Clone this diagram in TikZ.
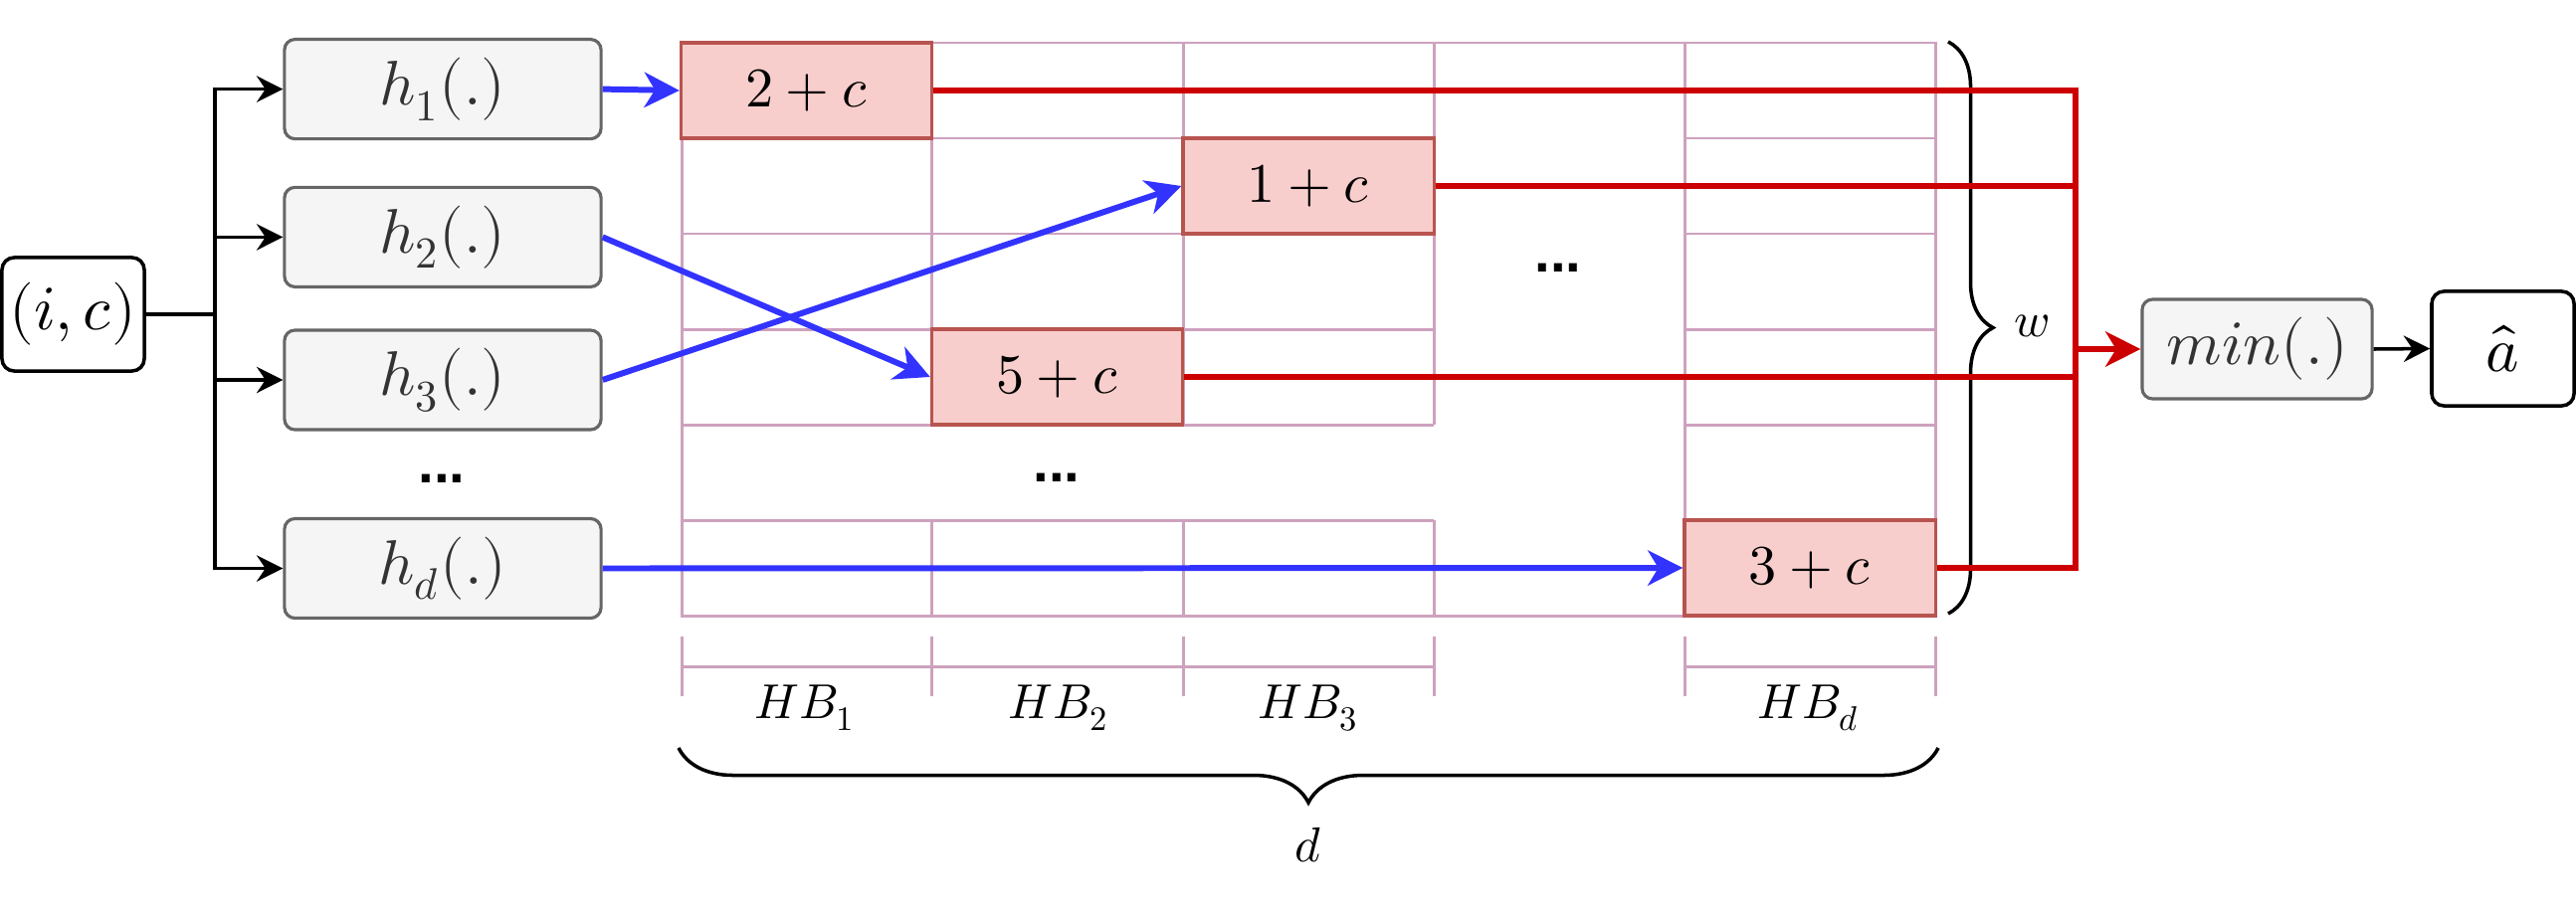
\documentclass[tikz,border=0pt]{standalone}
\usepackage{fontspec}
\usepackage{unicode-math}
\setmathfont{Latin Modern Math}
\newfontfamily\dotsfont{Liberation Sans}
\usetikzlibrary{arrows.meta,decorations.pathreplacing}
\definecolor{gridc}{HTML}{CDA2BE}
\definecolor{cellfill}{HTML}{F8CECC}
\definecolor{celldraw}{HTML}{B85450}
\definecolor{boxfill}{HTML}{F5F5F5}
\definecolor{boxdraw}{HTML}{666666}
\definecolor{boxtext}{HTML}{333333}
\definecolor{blueline}{HTML}{3333FF}
\definecolor{redline}{HTML}{CC0000}
\begin{document}
\begin{tikzpicture}[x=0.01cm,y=-0.01cm,
  hbox/.style={draw=boxdraw, fill=boxfill, text=boxtext, rounded corners=3pt, line width=0.9pt,
    minimum width=3.18cm, minimum height=1cm, inner sep=0pt, font=\fontsize{18}{20}\selectfont},
  wbox/.style={draw=black, fill=white, rounded corners=3.5pt, line width=1pt,
    minimum width=1.43cm, minimum height=1.14cm, inner sep=0pt, font=\fontsize{18}{20}\selectfont},
  cellbox/.style={draw=celldraw, fill=cellfill, line width=0.9pt, minimum width=2.52cm,
    minimum height=0.96cm, inner sep=0pt, font=\fontsize{16}{18}\selectfont},
  gridline/.style={draw=gridc, line width=0.85pt},
  blk/.style={draw=black, line width=1pt, -{Stealth[length=7.5pt,width=7.5pt,inset=2.5pt]}},
  blu/.style={draw=blueline, line width=1.7pt, -{Stealth[length=10pt,width=10pt,inset=3pt]}},
  redl/.style={draw=redline, line width=1.7pt},
  reda/.style={draw=redline, line width=1.7pt, -{Stealth[length=10pt,width=10pt,inset=3pt]}},
  dotsl/.style={inner sep=0pt, font=\dotsfont\bfseries\fontsize{16}{16}\selectfont},
  lab/.style={inner sep=0pt, font=\fontsize{14}{16}\selectfont},
  bracel/.style={draw=black, line width=1pt, decorate}
]
\useasboundingbox (0,0) rectangle (2589,915);

% grid
\draw[gridline] (685,43) rectangle (1945,619);
\foreach \y in {139,235,331,427,523} \draw[gridline] (685,\y) -- (1441,\y);
\foreach \x in {936,1189,1441} {
  \draw[gridline] (\x,43) -- (\x,427);
  \draw[gridline] (\x,523) -- (\x,619);
}
\draw[gridline] (1693,43) -- (1693,619);
\foreach \y in {139,235,331,427} \draw[gridline] (1693,\y) -- (1945,\y);

% HB strip
\foreach \x in {685,936,1189,1441,1693,1945} \draw[gridline] (\x,640) -- (\x,700);
\draw[gridline] (685,670) -- (1441,670);
\draw[gridline] (1693,670) -- (1945,670);

% nodes
\node[wbox] (in) at (73.5,316) {$(i,c)$};
\node[hbox] (h1) at (445,89.6) {$h_1(.)$};
\node[hbox] (h2) at (445,238.4) {$h_2(.)$};
\node[hbox] (h3) at (445,382) {$h_3(.)$};
\node[hbox] (hd) at (445,571.5) {$h_d(.)$};
\node[dotsl] (dl) at (444,481) {...};

\node[cellbox] (c1) at (810.5,91) {$2+c$};
\node[cellbox] (c3) at (1315,187) {$1+c$};
\node[cellbox] (c2) at (1062.5,379) {$5+c$};
\node[cellbox] (cd) at (1819,571) {$3+c$};
\node[dotsl] (dm) at (1062,480) {...};
\node[dotsl] (dr) at (1566,269) {...};

\node[lab] (hb1) at (809,712) {$HB_1$};
\node[lab] (hb2) at (1064,712) {$HB_2$};
\node[lab] (hb3) at (1315,712) {$HB_3$};
\node[lab] (hbd) at (1818,712) {$HB_d$};

\node[hbox, minimum width=2.31cm] (mn) at (2268.5,351) {$min(.)$};
\node[wbox, minimum height=1.15cm] (ah) at (2515.5,350.5) {$\hat{a}$};

% braces
\draw[bracel, decoration={brace, amplitude=0.45cm}] (1958,42) -- (1958,617);
\node[lab, anchor=west] (wl) at (2024,328) {$w$};
\draw[bracel, decoration={brace, amplitude=0.55cm}] (1948,752) -- (682,752);
\node[lab] (dlab) at (1315,850) {$d$};

% input fan-out
\coordinate (j) at (216,316);
\draw[line width=1pt] (in.east) -- (j);
\draw[blk] (j) |- (h1.west);
\draw[blk] (j) |- (h2.west);
\draw[blk] (j) |- (h3.west);
\draw[blk] (j) |- (hd.west);

% blue arrows
\draw[blu] (h1.east) -- (c1.west);
\draw[blu] (h2.east) -- (c2.west);
\draw[blu] (h3.east) -- (c3.west);
\draw[blu] (hd.east) -- (cd.west);

% red lines
\coordinate (m) at (2086,351);
\draw[redl] (c1.east) -| (m);
\draw[redl] (c3.east) -| (m);
\draw[redl] (c2.east) -| (m);
\draw[redl] (cd.east) -| (m);
\draw[reda] (m) -- (mn.west);

\draw[blk] (mn.east) -- (ah.west);
\end{tikzpicture}
\end{document}
